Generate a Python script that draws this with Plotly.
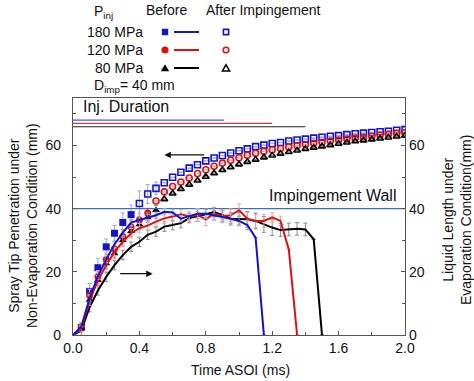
import plotly.graph_objects as go

# ---------------- data ----------------
# Spray tip penetration (non-evaporating), before impingement (filled markers)
t_b180 = [0.05, 0.10, 0.15, 0.20, 0.25, 0.30, 0.35]
p_b180 = [2.4, 13.8, 21.3, 27.9, 32.2, 35.6, 38.1]
e_b180 = [1.5, 2.5, 3.0, 2.5, 2.5, 3.0, 3.0]

t_b120 = [0.05, 0.10, 0.15, 0.20, 0.25, 0.30, 0.35, 0.40, 0.45]
p_b120 = [2.5, 12.5, 18.4, 23.9, 27.3, 31.2, 34.2, 36.4, 38.6]
e_b120 = [1.0, 2.0, 2.0, 2.0, 2.0, 2.0, 2.0, 2.0, 1.5]

t_b80 = [0.05, 0.10, 0.15, 0.20, 0.25, 0.30, 0.35, 0.40, 0.45, 0.50]
p_b80 = [2.2, 11.1, 17.3, 22.6, 25.8, 30.0, 32.8, 35.0, 37.2, 39.5]
e_b80 = [1.0, 1.5, 1.5, 1.5, 1.5, 1.5, 1.5, 1.5, 1.5, 1.5]

# after impingement (open markers)
t_a180 = [0.40, 0.45, 0.50, 0.55, 0.60, 0.65, 0.70, 0.75, 0.80, 0.85, 0.90,
          0.95, 1.00, 1.05, 1.10, 1.15, 1.20, 1.25, 1.30, 1.35, 1.40, 1.45,
          1.50, 1.55, 1.60, 1.65, 1.70, 1.75, 1.80, 1.85, 1.90, 1.95, 2.00]
p_a180 = [41.6, 44.6, 46.4, 48.2, 49.9, 51.5, 52.8, 53.9, 55.1, 56.0, 56.8,
          57.6, 58.3, 58.9, 59.6, 60.1, 60.6, 60.9, 61.4, 61.7, 62.0, 62.3,
          62.6, 62.9, 63.1, 63.4, 63.7, 63.9, 64.1, 64.3, 64.5, 64.8, 65.0]
e_a180 = [4.0, 3.0, 2.0] + [0.0] * 30

t_a120 = [0.50, 0.55, 0.60, 0.65, 0.70, 0.75, 0.80, 0.85, 0.90, 0.95, 1.00,
          1.05, 1.10, 1.15, 1.20, 1.25, 1.30, 1.35, 1.40, 1.45, 1.50, 1.55,
          1.60, 1.65, 1.70, 1.75, 1.80, 1.85, 1.90, 1.95, 2.00]
p_a120 = [42.4, 45.3, 47.0, 48.4, 49.7, 51.1, 52.3, 53.4, 54.4, 55.3, 56.1,
          56.9, 57.5, 58.1, 58.6, 59.0, 59.5, 59.9, 60.3, 60.7, 61.0, 61.4,
          61.7, 62.0, 62.3, 62.6, 62.9, 63.2, 63.5, 63.8, 64.0]

t_a80 = [0.55, 0.60, 0.65, 0.70, 0.75, 0.80, 0.85, 0.90, 0.95, 1.00, 1.05,
         1.10, 1.15, 1.20, 1.25, 1.30, 1.35, 1.40, 1.45, 1.50, 1.55, 1.60,
         1.65, 1.70, 1.75, 1.80, 1.85, 1.90, 1.95, 2.00]
p_a80 = [43.0, 44.8, 46.2, 47.6, 48.9, 50.1, 51.2, 52.2, 53.1, 54.0, 54.8,
         55.5, 56.2, 56.8, 57.4, 57.9, 58.4, 58.9, 59.3, 59.7, 60.1, 60.5,
         60.9, 61.3, 61.6, 61.9, 62.2, 62.5, 62.8, 63.1]

# Liquid length (evaporating), right axis
t_l180 = [0.00, 0.05, 0.10, 0.15, 0.20, 0.25, 0.30, 0.35, 0.40, 0.45, 0.50,
          0.55, 0.60, 0.65, 0.70, 0.75, 0.80, 0.85, 0.90, 0.95, 1.00, 1.05,
          1.10, 1.15]
l_l180 = [0.0, 2.6, 11.7, 18.6, 23.9, 28.7, 32.4, 35.6, 36.4, 37.2, 37.9,
          39.0, 38.8, 36.8, 37.5, 38.4, 38.4, 37.9, 37.4, 36.8, 36.1, 34.8,
          30.8, 0.0]
e_l180 = [0, 0, 1, 1, 1, 1, 1, 1, 1, 1, 1, 1, 1, 1, 1, 1.5, 1.5, 1.5, 1.5,
          1.5, 1.5, 1.5, 0, 0]

t_l120 = [0.00, 0.05, 0.10, 0.15, 0.20, 0.25, 0.30, 0.35, 0.40, 0.45, 0.50,
          0.55, 0.60, 0.65, 0.70, 0.75, 0.80, 0.85, 0.90, 0.95, 1.00, 1.05,
          1.10, 1.15, 1.20, 1.25, 1.30, 1.35]
l_l120 = [0.0, 2.0, 10.9, 17.3, 22.1, 26.3, 29.5, 32.2, 33.8, 34.6, 35.9,
          36.9, 37.5, 38.2, 37.5, 38.0, 36.6, 38.4, 37.6, 37.9, 39.5, 36.8,
          36.1, 36.1, 37.2, 36.1, 27.1, 0.0]
e_l120 = [0, 1, 1.5, 1.5, 1.5, 1.5, 1.5, 1.5, 1.5, 1.5, 1.5, 1.5, 1.5, 1.5,
          1.5, 2, 2, 2, 2, 2, 2, 2, 2, 2, 1.5, 1.5, 0, 0]

t_l80 = [0.00, 0.05, 0.10, 0.15, 0.20, 0.25, 0.30, 0.35, 0.40, 0.45, 0.50,
         0.55, 0.60, 0.65, 0.70, 0.75, 0.80, 0.85, 0.90, 0.95, 1.00, 1.05,
         1.10, 1.15, 1.20, 1.25, 1.30, 1.35, 1.40, 1.45, 1.50]
l_l80 = [0.0, 1.4, 8.8, 14.1, 18.4, 22.1, 25.3, 27.9, 29.5, 31.7, 32.7,
         34.3, 34.8, 35.4, 37.0, 37.5, 38.2, 38.9, 38.0, 36.8, 36.8, 36.6,
         36.1, 35.0, 34.0, 33.2, 33.4, 33.6, 33.4, 30.3, 0.0]
e_l80 = [0, 1.5, 1.5, 1.5, 1.5, 1.5, 1.5, 1.5, 1.5, 1.5, 1.5, 1.5, 1.5, 1.5,
         1.5, 1.5, 1.5, 1.5, 1.5, 2, 2, 2.5, 2.5, 2.5, 2.5, 2, 2, 2, 2, 0, 0]

# injection durations (ms) and the level of their marker lines
inj_dur = [0.91, 1.20, 1.40]
inj_level = [68.0, 67.0, 65.9]
wall_dist = 40.0

labels = ["180 MPa", "120 MPa", "80 MPa"]
colors = ["#1414c8", "#e01010", "#000000"]
err_colors = ["#9aa6e0", "#eaa0a0", "#8a8a8a"]
fill_sym = ["square", "circle", "triangle-up"]
open_sym = ["square-open", "circle-open", "triangle-up-open"]

FONT = "Liberation Sans, Arial, sans-serif"

fig = go.Figure()

# liquid length lines on right axis
for t, l, e, c, ec in [(t_l180, l_l180, e_l180, colors[0], err_colors[0]),
                       (t_l120, l_l120, e_l120, colors[1], err_colors[1]),
                       (t_l80, l_l80, e_l80, colors[2], err_colors[2])][::-1]:
    fig.add_trace(go.Scatter(x=t, y=l, mode="lines", yaxis="y2",
                             line=dict(color=c, width=2),
                             error_y=dict(type="data", array=e, color=ec,
                                          thickness=1, width=2),
                             showlegend=False))

# penetration markers
before = [(t_b180, p_b180, e_b180), (t_b120, p_b120, e_b120), (t_b80, p_b80, e_b80)]
after = [(t_a180, p_a180, e_a180), (t_a120, p_a120, [0] * len(p_a120)),
         (t_a80, p_a80, [0] * len(p_a80))]
for i in range(3):
    t, p, e = before[i]
    fig.add_trace(go.Scatter(x=t, y=p, mode="markers",
                             marker=dict(symbol=fill_sym[i], size=7, color=colors[i]),
                             error_y=dict(type="data", array=e, color=err_colors[i],
                                          thickness=1, width=2),
                             showlegend=False))
    t, p, e = after[i]
    fig.add_trace(go.Scatter(x=t, y=p, mode="markers",
                             marker=dict(symbol=open_sym[i], size=6, color=colors[i],
                                         line=dict(width=1.6, color=colors[i])),
                             error_y=dict(type="data", array=e, color=err_colors[i],
                                          thickness=1, width=2),
                             showlegend=False))

# injection duration lines
inj_colors = ["#3a62c8", "#c0404a", "#222222"]
for d, lv, c in zip(inj_dur, inj_level, inj_colors):
    fig.add_trace(go.Scatter(x=[0, d], y=[lv, lv], mode="lines",
                             line=dict(color=c, width=1.2), showlegend=False))

# impingement wall
fig.add_trace(go.Scatter(x=[0, 2.0], y=[wall_dist, wall_dist], mode="lines",
                         line=dict(color="#3a70b8", width=1.2), showlegend=False))

# ---------------- layout ----------------
L, R, T, B = 73, 405, 98, 335
W, H = 474, 381


def px(x):
    return (x - L) / (R - L)


def py(y):
    return (B - y) / (B - T)


shapes = []
annotations = []

# legend header
annotations.append(dict(x=px(92), y=py(12), xref="paper", yref="paper", text="P<sub>inj</sub>",
                        showarrow=False, xanchor="left", yanchor="middle",
                        font=dict(size=14, family=FONT, color="#111")))
annotations.append(dict(x=px(166), y=py(10), xref="paper", yref="paper", text="Before",
                        showarrow=False, xanchor="center", yanchor="middle",
                        font=dict(size=14, family=FONT, color="#111")))
annotations.append(dict(x=px(263), y=py(10), xref="paper", yref="paper", text="After Impingement",
                        showarrow=False, xanchor="center", yanchor="middle",
                        font=dict(size=14, family=FONT, color="#111")))
annotations.append(dict(x=px(92), y=py(86), xref="paper", yref="paper",
                        text="D<sub>imp</sub>= 40 mm",
                        showarrow=False, xanchor="left", yanchor="middle",
                        font=dict(size=14, family=FONT, color="#111")))

rows = [32, 50, 68]
for i in range(3):
    yy = rows[i]
    annotations.append(dict(x=px(145), y=py(yy), xref="paper", yref="paper", text=labels[i],
                            showarrow=False, xanchor="right", yanchor="middle",
                            font=dict(size=14, family=FONT, color="#111")))
    c = colors[i]
    # line sample
    shapes.append(dict(type="line", xref="paper", yref="paper", x0=px(174), x1=px(199),
                       y0=py(yy), y1=py(yy), line=dict(color=c, width=2)))
    s = 3.2
    if i == 0:
        shapes.append(dict(type="rect", xref="paper", yref="paper", x0=px(165 - s), x1=px(165 + s),
                           y0=py(yy - s), y1=py(yy + s), fillcolor=c, line=dict(width=0)))
        shapes.append(dict(type="rect", xref="paper", yref="paper", x0=px(226 - 2.6), x1=px(226 + 2.6),
                           y0=py(yy - 2.6), y1=py(yy + 2.6), line=dict(color=c, width=1.6)))
    elif i == 1:
        shapes.append(dict(type="circle", xref="paper", yref="paper", x0=px(165 - 3.6), x1=px(165 + 3.6),
                           y0=py(yy - 3.6), y1=py(yy + 3.6), fillcolor=c, line=dict(width=0)))
        shapes.append(dict(type="circle", xref="paper", yref="paper", x0=px(226 - 2.8), x1=px(226 + 2.8),
                           y0=py(yy - 2.8), y1=py(yy + 2.8), line=dict(color=c, width=1.6)))
    else:
        def tri(cx, cy, r):
            return "M {} {} L {} {} L {} {} Z".format(px(cx - r), py(cy + r * 0.8),
                                                      px(cx + r), py(cy + r * 0.8),
                                                      px(cx), py(cy - r * 0.9))
        shapes.append(dict(type="path", xref="paper", yref="paper", path=tri(165, yy, 4.2),
                           fillcolor=c, line=dict(width=0)))
        shapes.append(dict(type="path", xref="paper", yref="paper", path=tri(226, yy, 3.6),
                           line=dict(color=c, width=1.5)))

# in-plot texts
annotations.append(dict(x=0.05, y=72.3, xref="x", yref="y", text="Inj. Duration",
                        showarrow=False, xanchor="left", yanchor="middle",
                        font=dict(size=16, family=FONT, color="#111")))
annotations.append(dict(x=1.955, y=44.2, xref="x", yref="y", text="Impingement Wall",
                        showarrow=False, xanchor="right", yanchor="middle",
                        font=dict(size=16, family=FONT, color="#111")))
# arrows
annotations.append(dict(x=0.55, y=57.0, ax=0.80, ay=57.0, xref="x", yref="y",
                        axref="x", ayref="y", text="", showarrow=True,
                        arrowhead=2, arrowsize=1, arrowwidth=1.3, arrowcolor="#111"))
annotations.append(dict(x=0.48, y=19.4, ax=0.275, ay=19.4, xref="x", yref="y",
                        axref="x", ayref="y", text="", showarrow=True,
                        arrowhead=2, arrowsize=1, arrowwidth=1.3, arrowcolor="#111"))

# axis titles
annotations.append(dict(x=px(23), y=py(226), xref="paper", yref="paper",
                        text="Spray Tip Penetration under<br>Non-Evaporation Condition (mm)",
                        textangle=-90, showarrow=False, xanchor="center", yanchor="middle",
                        font=dict(size=14, family=FONT, color="#111")))
annotations.append(dict(x=px(457), y=py(220), xref="paper", yref="paper",
                        text="Liquid Length under<br>Evaporation Condition(mm)",
                        textangle=-90, showarrow=False, xanchor="center", yanchor="middle",
                        font=dict(size=14, family=FONT, color="#111")))
annotations.append(dict(x=px(240), y=py(370), xref="paper", yref="paper",
                        text="Time ASOI (ms)", showarrow=False, xanchor="center", yanchor="middle",
                        font=dict(size=14, family=FONT, color="#111")))

axis_col = "#555555"
fig.update_layout(
    width=W, height=H,
    margin=dict(l=L, r=W - R, t=T, b=H - B, pad=0),
    paper_bgcolor="white", plot_bgcolor="white",
    font=dict(family=FONT, size=14, color="#111"),
    showlegend=False,
    shapes=shapes,
    annotations=annotations,
    xaxis=dict(range=[0, 2.0], tickvals=[0, 0.4, 0.8, 1.2, 1.6, 2.0],
               ticktext=["0.0", "0.4", "0.8", "1.2", "1.6", "2.0"],
               ticks="inside", ticklen=4, tickcolor=axis_col,
               minor=dict(tickvals=[0.2, 0.6, 1.0, 1.4, 1.8], ticks="inside", ticklen=3,
                          tickcolor=axis_col),
               showline=True, linecolor=axis_col, linewidth=1.2, mirror=True,
               showgrid=False, zeroline=False, tickfont=dict(size=14)),
    yaxis=dict(range=[0, 75], tickvals=[0, 20, 40, 60], ticks="inside", ticklen=4,
               tickcolor=axis_col, ticklabelstandoff=8,
               minor=dict(tickvals=[10, 30, 50, 70], ticks="inside", ticklen=3,
                          tickcolor=axis_col),
               showline=True, linecolor=axis_col, linewidth=1.2,
               showgrid=False, zeroline=False, tickfont=dict(size=14)),
    yaxis2=dict(range=[0, 75], tickvals=[0, 20, 40, 60], overlaying="y", side="right",
                ticks="inside", ticklen=4, tickcolor=axis_col,
                minor=dict(tickvals=[10, 30, 50, 70], ticks="inside", ticklen=3,
                           tickcolor=axis_col),
                showline=True, linecolor=axis_col, linewidth=1.2,
                showgrid=False, zeroline=False, tickfont=dict(size=14)),
)

fig.write_html("out.html", config={"displayModeBar": False},
               post_script="document.body.style.margin='0';document.body.style.overflow='hidden';")
